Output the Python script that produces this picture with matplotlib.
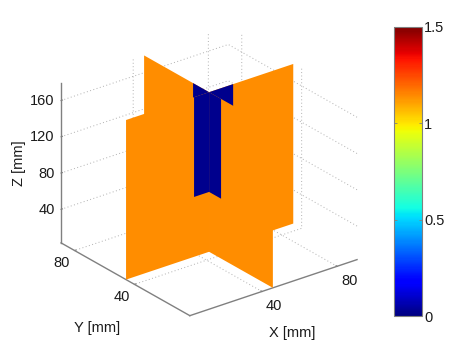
import matplotlib
matplotlib.use("Agg")
import matplotlib.pyplot as plt
from matplotlib import cm
from matplotlib.colors import Normalize
from mpl_toolkits.mplot3d import proj3d
from mpl_toolkits.mplot3d.art3d import Poly3DCollection

plt.rcParams["font.family"] = ["Liberation Sans", "DejaVu Sans"]
plt.rcParams["font.size"] = 10.5

# axis ranges [mm]
x_lim = [1.6, 90.6]
y_lim = [3.0, 89.0]
z_lim = [3.0, 179.0]
xy_ticks = [40, 80]
z_ticks = [40, 80, 120, 160]
cbar_ticks = [0, 0.5, 1, 1.5]
cbar_labels = ["0", "0.5", "1", "1.5"]

# the two crossing walls
x_center = 45.8
y_center = 45.6
wall_value = 1.14
slot_value = 0.02

# blue slot: width on each wing and lowest z
slot_bottom = 69.0
slot_x_back = 12.8
slot_y_back = 10.7
slot_x_front = 8.0
slot_y_front = 8.0

cmap = plt.get_cmap("jet")
norm = Normalize(0, 1.5)
grey = "#808080"


def x_wing(x0, x1, z0, z1):
    # rectangle in the plane y = y_center
    return [(x0, y_center, z0), (x1, y_center, z0), (x1, y_center, z1), (x0, y_center, z1)]


def y_wing(y0, y1, z0, z1):
    # rectangle in the plane x = x_center
    return [(x_center, y0, z0), (x_center, y1, z0), (x_center, y1, z1), (x_center, y0, z1)]


def add_polys(ax, polys, value, order):
    pc = Poly3DCollection(polys, facecolors=cmap(norm(value)), edgecolors="none", linewidths=0)
    pc.set_zorder(order)
    ax.add_collection3d(pc)


fig = plt.figure(figsize=(4.74, 3.55), dpi=100)
ax = fig.add_axes([36 / 474, 10.5 / 355, 337 / 474, 337 / 355], projection="3d")
ax.set_proj_type("ortho")
ax.computed_zorder = False
ax.set_box_aspect((1, 1, 0.84))
ax.view_init(elev=25.8, azim=-127.6)

z0, z1 = z_lim
# back wings first, front wings over them
add_polys(ax, [x_wing(x_center, x_lim[1], z0, z1), y_wing(y_center, y_lim[1], z0, z1)], wall_value, 3)
add_polys(ax, [x_wing(x_center, x_center + slot_x_back, slot_bottom, z1),
               y_wing(y_center, y_center + slot_y_back, slot_bottom, z1)], slot_value, 4)
add_polys(ax, [x_wing(x_lim[0], x_center, z0, z1), y_wing(y_lim[0], y_center, z0, z1)], wall_value, 5)
add_polys(ax, [x_wing(x_center - slot_x_front, x_center, slot_bottom, z1),
               y_wing(y_center - slot_y_front, y_center, slot_bottom, z1)], slot_value, 6)

ax.set_xlim(x_lim[0], x_lim[1], view_margin=0)
ax.set_ylim(y_lim[0], y_lim[1], view_margin=0)
ax.set_zlim(z_lim[0], z_lim[1], view_margin=0)
ax.set_xticks(xy_ticks)
ax.set_yticks(xy_ticks)
ax.set_zticks(z_ticks)
ax.set_zticklabels([])

for axis in [ax.xaxis, ax.yaxis, ax.zaxis]:
    axis.set_pane_color((1, 1, 1, 0))
    axis.pane.set_edgecolor((1, 1, 1, 0))
    axis.line.set_color(grey)
    axis.line.set_linewidth(1.0)
    axis._axinfo["grid"].update(color="#b0b0b0", linewidth=0.7, linestyle=(0, (1, 2.5)))
    axis._axinfo["tick"].update(inward_factor=0.0, outward_factor=0.1)
ax.tick_params(axis="x", color=grey, labelcolor="#1a1a1a", pad=-4)
ax.tick_params(axis="y", color=grey, labelcolor="#1a1a1a", pad=-4.5)
ax.tick_params(axis="z", color=grey)

# nudge the tick labels the way the reference has them
for lab in ax.xaxis.get_ticklabels():
    lab.set_ha("left")
for lab in ax.yaxis.get_ticklabels():
    lab.set_ha("right")

# z labels sit level with their ticks, mplot3d would push them down
for z in z_ticks:
    zx, zy, _ = proj3d.proj_transform(x_lim[0], y_lim[1], z, ax.get_proj())
    ax.annotate(str(z), (zx, zy), xytext=(-4.5, 0.6), textcoords="offset points", ha="right",
                va="center_baseline", color="#1a1a1a", annotation_clip=False)

fig.text(19 / 474, 1 - 163 / 355, "Z [mm]", rotation=90, ha="center", va="center", color="#1a1a1a")
fig.text(97 / 474, 1 - 328 / 355, "Y [mm]", ha="center", va="center", color="#1a1a1a")
fig.text(292 / 474, 1 - 333 / 355, "X [mm]", ha="center", va="center", color="#1a1a1a")

cax = fig.add_axes([394 / 474, 1 - 316 / 355, 28 / 474, 289 / 355])
cb = fig.colorbar(cm.ScalarMappable(norm=norm, cmap=cmap), cax=cax, ticks=cbar_ticks)
cb.set_ticklabels(cbar_labels)
cb.outline.set_edgecolor(grey)
cb.outline.set_linewidth(0.8)
cax.tick_params(axis="y", left=True, right=True, direction="in", length=2.5, width=0.6,
                color=grey, labelcolor="#1a1a1a", pad=1.5)

fig.savefig("out.png", dpi=100)
